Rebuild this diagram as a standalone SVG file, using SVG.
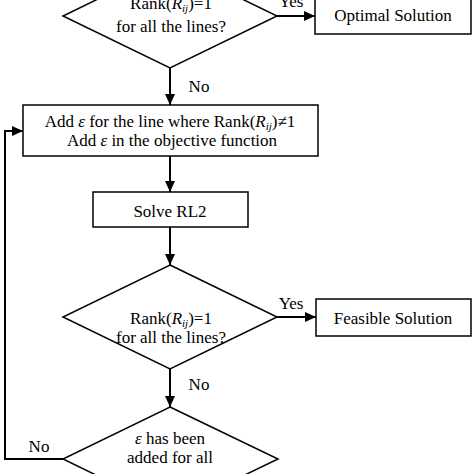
<svg xmlns="http://www.w3.org/2000/svg" width="474" height="474" viewBox="0 0 474 474" font-family="'Liberation Serif', 'Times New Roman', 'DejaVu Serif', serif">
<defs>
<marker id="arr" markerUnits="userSpaceOnUse" markerWidth="12" markerHeight="10" refX="11" refY="5" orient="auto">
<path d="M0,0 L11,5 L0,10 z" fill="#000"/>
</marker>
<style>
.shape{fill:#fff;stroke:#000;stroke-width:1.5}
.conn{fill:none;stroke:#000;stroke-width:2}
text{font-family:'Liberation Serif','Times New Roman',serif;font-size:17px;fill:#000;text-anchor:middle}
.it{font-style:italic}
.sub{font-size:11px;font-style:italic}
</style>
</defs>
<rect width="474" height="474" fill="#fff"/>
<g id="connectors">
<path class="conn" d="M277,16 L315,16" marker-end="url(#arr)"/>
<path class="conn" d="M170,68 L170,105" marker-end="url(#arr)"/>
<path class="conn" d="M170,156 L170,192" marker-end="url(#arr)"/>
<path class="conn" d="M170,227 L170,265" marker-end="url(#arr)"/>
<path class="conn" d="M277,317 L316,317" marker-end="url(#arr)"/>
<path class="conn" d="M170,369 L170,407" marker-end="url(#arr)"/>
<path class="conn" d="M63,459 L5,459 L5,131 L23,131" marker-end="url(#arr)"/>
<text x="291" y="7">Yes</text>
<text x="199" y="92">No</text>
<text x="291" y="309">Yes</text>
<text x="199" y="390">No</text>
<text x="39" y="452">No</text>
</g>
<g id="decision1">
<polygon class="shape" points="170,-36 277,16 170,68 63,16"/>
<text x="171" y="9">Rank(<tspan class="it">R</tspan><tspan class="sub" dy="3">ij</tspan><tspan dy="-3">)=1</tspan></text>
<text x="171" y="32">for all the lines?</text>
</g>
<g id="optimal">
<rect class="shape" x="315" y="-5" width="156" height="39"/>
<text x="393" y="21">Optimal Solution</text>
</g>
<g id="addEpsilon">
<rect class="shape" x="23" y="105" width="295" height="51"/>
<text x="170" y="127">Add <tspan class="it">ε</tspan> for the line where Rank(<tspan class="it">R</tspan><tspan class="sub" dy="3">ij</tspan><tspan dy="-3">)≠1</tspan></text>
<text x="172" y="146">Add <tspan class="it">ε</tspan> in the objective function</text>
</g>
<g id="solve">
<rect class="shape" x="93" y="192" width="155" height="35"/>
<text x="170" y="217">Solve RL2</text>
</g>
<g id="decision2">
<polygon class="shape" points="170,265 277,317 170,369 63,317"/>
<text x="171" y="324">Rank(<tspan class="it">R</tspan><tspan class="sub" dy="3">ij</tspan><tspan dy="-3">)=1</tspan></text>
<text x="171" y="343">for all the lines?</text>
</g>
<g id="feasible">
<rect class="shape" x="316" y="299" width="155" height="37"/>
<text x="393" y="324">Feasible Solution</text>
</g>
<g id="decision3">
<polygon class="shape" points="170,407 278,459 170,511 63,459"/>
<text x="170" y="444"><tspan class="it">ε</tspan> has been</text>
<text x="170" y="463">added for all</text>
</g>
</svg>
